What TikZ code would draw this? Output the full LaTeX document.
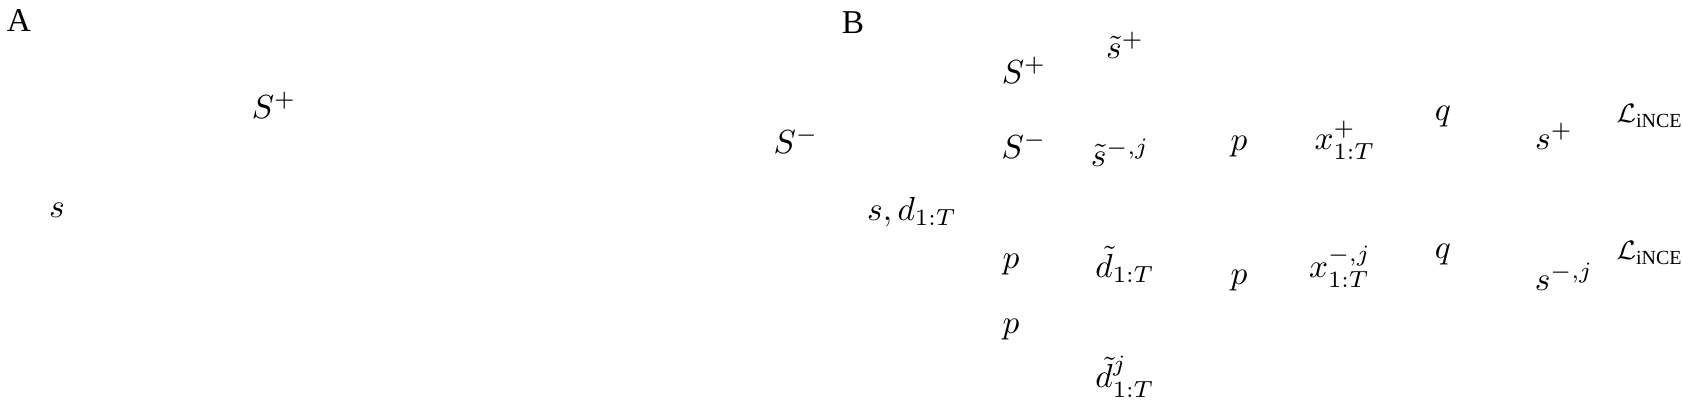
\documentclass[tikz,border=0pt]{standalone}
\usepackage{fontspec}
\setmainfont{Liberation Serif}
\begin{document}
\begin{tikzpicture}[x=0.3pt,y=-0.3pt,
  lbl/.style={inner sep=0pt,outer sep=0pt,anchor=center},
  small/.style={lbl,font=\footnotesize}]
\useasboundingbox (0,0) rectangle (1682,419);
% panel A
\node[lbl] (A) at (19,21) {A};
\node[lbl] (aSp) at (274,105) {$S^{+}$};
\node[lbl] (aSm) at (796,140) {$S^{-}$};
\node[lbl] (as) at (57,210) {$s$};
% panel B
\node[lbl] (B) at (853,23) {B};
\node[lbl] (sd) at (912,212) {$s, d_{1:T}$};
\node[lbl] (bSp) at (1024,70) {$S^{+}$};
\node[lbl] (bSm) at (1024,145) {$S^{-}$};
\node[lbl] (p1) at (1011,265) {$p$};
\node[lbl] (p2) at (1011,330) {$p$};
\node[lbl] (tsp) at (1125,45) {$\tilde{s}^{+}$};
\node[lbl] (tsm) at (1120,153) {$\tilde{s}^{-,j}$};
\node[lbl] (td) at (1125,264) {$\tilde{d}_{1:T}$};
\node[lbl] (tdj) at (1125,377) {$\tilde{d}^{j}_{1:T}$};
\node[lbl] (p3) at (1239,147) {$p$};
\node[lbl] (p4) at (1239,281) {$p$};
\node[lbl] (xp) at (1345,140) {$x^{+}_{1:T}$};
\node[lbl] (xm) at (1340,267) {$x^{-,j}_{1:T}$};
\node[lbl] (q1) at (1443,117) {$q$};
\node[lbl] (q2) at (1443,255) {$q$};
\node[lbl] (sp) at (1554,136) {$s^{+}$};
\node[lbl] (sm) at (1564,277) {$s^{-,j}$};
\node[small] (L1) at (1650,116) {$\mathcal{L}_{\mathrm{iNCE}}$};
\node[small] (L2) at (1650,253) {$\mathcal{L}_{\mathrm{iNCE}}$};
\end{tikzpicture}
\end{document}
